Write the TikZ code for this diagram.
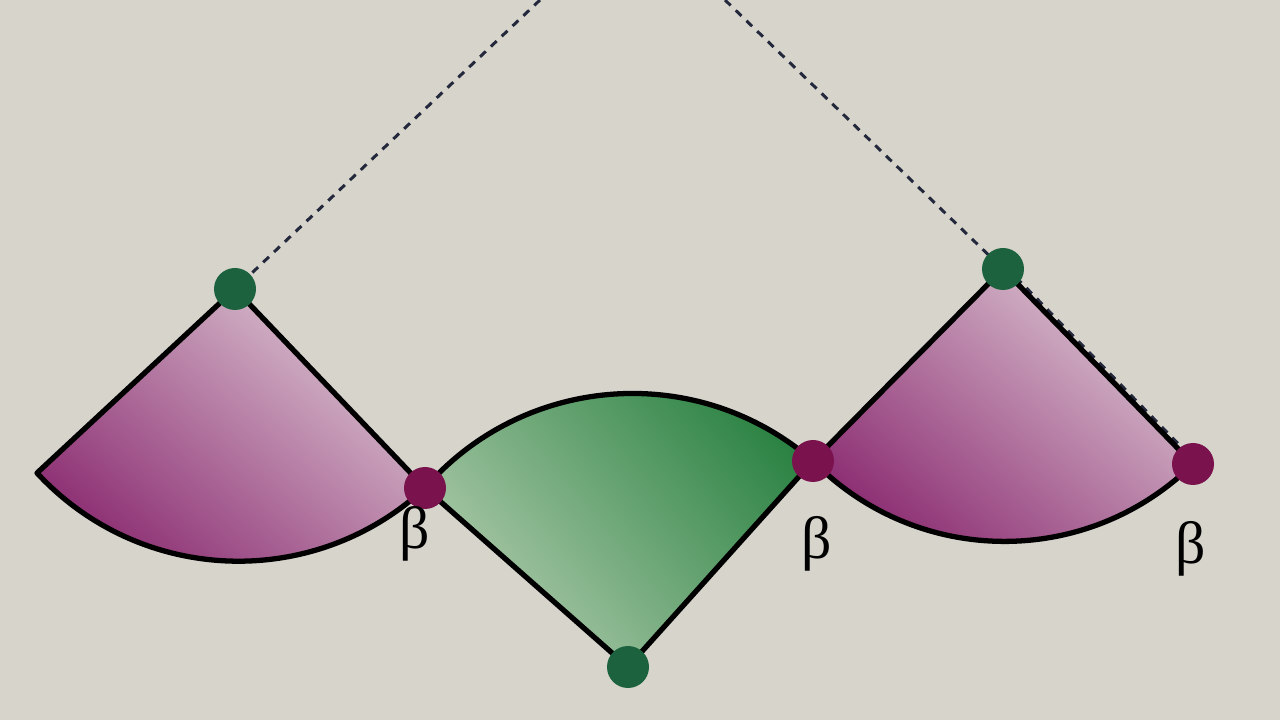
\documentclass[tikz,border=0pt]{standalone}
\usepackage{fontspec}
\newfontfamily\grk{Liberation Serif}
\usetikzlibrary{positioning}
\definecolor{paper}{RGB}{214,212,203}
\definecolor{pinkdark}{RGB}{138,42,112}
\definecolor{pinklight}{RGB}{218,195,208}
\definecolor{greendark}{RGB}{42,130,66}
\definecolor{greenlight}{RGB}{175,203,172}
\definecolor{dotgreen}{RGB}{28,98,62}
\definecolor{dotpink}{RGB}{122,18,78}
\definecolor{dashink}{RGB}{35,40,60}

\begin{document}
\begin{tikzpicture}[
    edge/.style={line width=3pt, line join=round},
    dashline/.style={dashink, line width=1.7pt, dash pattern=on 4.5pt off 4pt},
    gdot/.style={circle, fill=dotgreen, inner sep=0pt, minimum size=0.84cm},
    pdot/.style={circle, fill=dotpink, inner sep=0pt, minimum size=0.84cm},
    blabel/.style={inner sep=0pt, font=\grk\fontsize{34}{40}\selectfont}
  ]
    \useasboundingbox[fill=paper] (0,0) rectangle (25.6,14.4);
    % corners of the three sectors
    \coordinate (l)  at (0.74,4.94);
    \coordinate (a1) at (4.70,8.62);
    \coordinate (b1) at (8.50,4.64);
    \coordinate (g)  at (12.56,1.06);
    \coordinate (b2) at (16.26,5.18);
    \coordinate (a2) at (20.06,9.02);
    \coordinate (b3) at (23.86,5.12);
    \coordinate (ltop) at (10.8,14.4);
    \coordinate (rtop) at (14.5,14.4);

    % fills
    \shade[top color=pinklight, bottom color=pinkdark, shading angle=-40] (a1) -- (l) to[bend right=45] (b1) -- cycle;
    \shade[top color=greendark, bottom color=greenlight, shading angle=-50] (g) -- (b1) to[bend left=45] (b2) -- cycle;
    \shade[top color=pinklight, bottom color=pinkdark, shading angle=-40] (a2) -- (b2) to[bend right=45] (b3) -- cycle;

    % dashed lines
    \draw[dashline] (ltop) -- (a1);
    \draw[dashline] (rtop) -- (a2);
    \draw[dashline, transform canvas={shift={(0.05cm,0.05cm)}}] (a2) -- (b3);

    % outlines
    \draw[edge] (a1) -- (l) to[bend right=45] (b1) -- cycle;
    \draw[edge] (g) -- (b1) to[bend left=45] (b2) -- cycle;
    \draw[edge] (a2) -- (b2) to[bend right=45] (b3) -- cycle;

    % dots
    \node[gdot] (n1) at (a1) {};
    \node[gdot] (n2) at (g) {};
    \node[gdot] (n3) at (a2) {};
    \node[pdot] (p1) at (b1) {};
    \node[pdot] (p2) at (b2) {};
    \node[pdot] (p3) at (b3) {};

    \node[blabel, below=-0.06cm of p1, xshift=-0.2cm] (beta1) {β};
    \node[blabel, below=0.68cm of p2, xshift=0.08cm] (beta2) {β};
    \node[blabel, below=0.72cm of p3, xshift=-0.05cm] (beta3) {β};
\end{tikzpicture}
\end{document}
